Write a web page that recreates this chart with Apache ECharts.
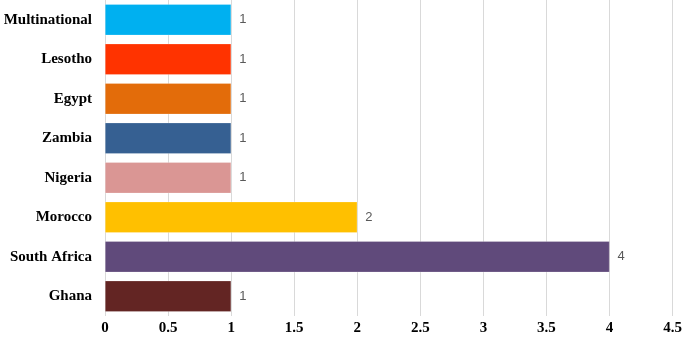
<!DOCTYPE html>
<html>
<head>
<meta charset="utf-8">
<script src="https://cdn.jsdelivr.net/npm/echarts@6/dist/echarts.min.js"></script>
<style>
  html, body { margin: 0; padding: 0; background: #fff; }
  #chart { width: 685px; height: 339px; }
</style>
</head>
<body>
<div id="chart"></div>
<script>
const categories = ["Ghana", "South Africa", "Morocco", "Nigeria", "Zambia", "Egypt", "Lesotho", "Multinational"];
const values = [1, 4, 2, 1, 1, 1, 1, 1];
const colors = ["#632523", "#604a7b", "#ffc000", "#da9694", "#366092", "#e36c0a", "#ff3300", "#00b0f0"];

const chart = echarts.init(document.getElementById("chart"));
chart.setOption({
  animation: false,
  grid: { left: 105, right: 10, top: 0, bottom: 23, containLabel: false },
  xAxis: {
    type: "value",
    min: 0,
    max: 4.5,
    interval: 0.5,
    axisLine: { show: false },
    axisTick: { show: false },
    splitLine: { show: true, lineStyle: { color: "#d9d9d9", width: 1 } },
    axisLabel: {
      color: "#000",
      fontFamily: "Liberation Serif",
      fontWeight: "bold",
      fontSize: 15,
      margin: 5
    }
  },
  yAxis: {
    type: "category",
    data: categories,
    axisLine: { show: false },
    axisTick: { show: false },
    axisLabel: {
      color: "#000",
      fontFamily: "Liberation Serif",
      fontWeight: "bold",
      fontSize: 15,
      margin: 13
    }
  },
  series: [{
    type: "bar",
    barCategoryGap: "21%",
    data: values.map((v, i) => ({ value: v, itemStyle: { color: colors[i] } })),
    itemStyle: { borderColor: "rgba(255,255,255,0.5)", borderWidth: 0.5 },
    label: {
      show: true,
      position: "right",
      distance: 8,
      color: "#595959",
      fontFamily: "Liberation Sans",
      fontSize: 13
    }
  }]
});
</script>
</body>
</html>
